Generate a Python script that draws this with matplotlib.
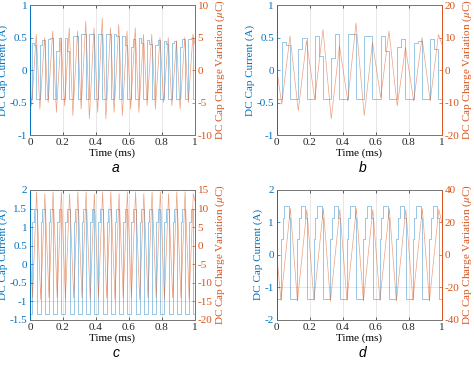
import numpy as np
import matplotlib.pyplot as plt
from matplotlib.ticker import FormatStrFormatter

plt.rcParams['font.family'] = ['Liberation Serif', 'DejaVu Serif']
plt.rcParams['mathtext.fontset'] = 'stix'
plt.rcParams['axes.unicode_minus'] = False

blue = '#0072BD'
orange = '#D95319'

# ---- panel a (20 kHz) ----
a_rise = [0.010, 0.060, 0.110, 0.160, 0.210, 0.260, 0.310, 0.360, 0.410, 0.460,
          0.510, 0.560, 0.610, 0.660, 0.710, 0.760, 0.810, 0.860, 0.910, 0.960]
a_fall = [0.038, 0.088, 0.138, 0.188, 0.238, 0.288, 0.338, 0.388, 0.438, 0.488,
          0.538, 0.588, 0.638, 0.688, 0.738, 0.788, 0.838, 0.888, 0.938, 0.988]
a_levels = [[0.42, 0.38], [0.38, 0.46], [0.48, 0.50], [0.30, 0.50], [0.50, 0.30],
            [0.53, 0.53], [0.55, 0.55], [0.55, 0.55], [0.56, 0.56], [0.55, 0.55],
            [0.55, 0.52], [0.52, 0.38], [0.35, 0.48], [0.50, 0.42], [0.46, 0.40],
            [0.38, 0.47], [0.45, 0.40], [0.42, 0.45], [0.35, 0.48], [0.48, 0.50]]
a_low = -0.45
a_trough = [-5.5, -6.0, -5.0, -6.5, -5.5, -7.0, -6.0, -7.5, -6.5, -7.5,
            -6.5, -7.0, -6.0, -6.5, -5.5, -6.0, -5.0, -5.5, -6.0, -5.0]
a_peak = [5.5, 5.0, 6.0, 5.0, 6.5, 6.0, 7.5, 6.5, 8.0, 6.5,
          7.0, 6.0, 6.5, 5.5, 5.5, 5.0, 5.0, 4.5, 5.0, 5.5]
a_q_ends = [0.0, 4.0]

# ---- panel b (10 kHz) ----
b_rise = [0.030, 0.130, 0.230, 0.330, 0.430, 0.530, 0.630, 0.730, 0.830, 0.930]
b_fall = [0.080, 0.180, 0.280, 0.380, 0.480, 0.580, 0.680, 0.780, 0.880, 0.980]
b_levels = [[0.44, 0.38], [0.33, 0.50], [0.52, 0.22], [0.18, 0.55], [0.55, 0.55],
            [0.53, 0.53], [0.52, 0.30], [0.35, 0.48], [0.42, 0.45], [0.48, 0.33]]
b_low = -0.45
b_trough = [-10.5, -12.5, -9.0, -15.0, -9.5, -14.0, -8.5, -11.0, -9.5, -9.5]
b_peak = [10.5, 9.0, 12.5, 7.5, 14.5, 8.5, 12.0, 7.0, 10.0, 11.0]
b_q_ends = [0.0, 8.0]

# ---- panel c (20 kHz) ----
c_rise = [0.015, 0.065, 0.115, 0.165, 0.215, 0.265, 0.315, 0.365, 0.415, 0.465,
          0.515, 0.565, 0.615, 0.665, 0.715, 0.765, 0.815, 0.865, 0.915, 0.965]
c_fall = [0.040, 0.090, 0.140, 0.190, 0.240, 0.290, 0.340, 0.390, 0.440, 0.490,
          0.540, 0.590, 0.640, 0.690, 0.740, 0.790, 0.840, 0.890, 0.940, 0.990]
c_shape = [1.15, 1.5, 1.5]
c_low = -1.35
c_trough = [-14.0, -14.5, -14.0, -14.0, -14.5, -14.0, -14.0, -14.5, -14.0, -14.0,
            -14.5, -14.0, -14.0, -14.5, -14.0, -14.0, -14.5, -14.0, -14.0, -14.5]
c_peak = [14.5, 14.0, 14.5, 14.5, 14.0, 14.5, 14.5, 14.0, 14.5, 14.5,
          14.0, 14.5, 14.5, 14.0, 14.5, 14.5, 14.0, 14.5, 14.5, 14.0]
c_q_ends = [0.0, 12.0]

# ---- panel d (10 kHz) ----
d_rise = [0.025, 0.125, 0.225, 0.325, 0.425, 0.525, 0.625, 0.725, 0.825, 0.925]
d_fall = [0.082, 0.182, 0.282, 0.382, 0.482, 0.582, 0.682, 0.782, 0.882, 0.982]
d_shape = [0.5, 1.15, 1.5, 1.5, 1.5, 1.15]
d_low = -1.35
d_trough = [-28.0, -28.5, -28.0, -28.5, -28.0, -28.5, -28.0, -28.5, -28.0, -28.5]
d_peak = [28.5, 28.0, 28.5, 28.0, 28.5, 28.0, 28.5, 28.0, 28.5, 28.0]
d_q_ends = [0.0, 20.0]


def pulse_train(rise, fall, levels, low):
    x, y = [0.0], [low]
    for r, f, lv in zip(rise, fall, levels):
        edges = np.linspace(r, f, len(lv) + 1)
        x.append(r)
        y.append(low)
        for j in range(len(lv)):
            x += [edges[j], edges[j + 1]]
            y += [lv[j], lv[j]]
        x.append(f)
        y.append(low)
    x.append(1.0)
    y.append(low)
    return x, y


def charge(rise, fall, trough, peak, ends):
    x, y = [0.0], [ends[0]]
    for r, f, lo, hi in zip(rise, fall, trough, peak):
        x += [r, f]
        y += [lo, hi]
    x.append(1.0)
    y.append(ends[1])
    return x, y


def panel(rect, cur, q, ylim, yticks, ylim2, yticks2, letter, hline=None):
    ax = fig.add_axes(rect)
    ax.plot(*cur, color=blue, lw=0.5, alpha=0.55)
    ax.set_xlim(0, 1)
    ax.set_ylim(*ylim)
    ax.set_yticks(yticks)
    ax.set_xticks([0, 0.2, 0.4, 0.6, 0.8, 1])
    ax.xaxis.set_major_formatter(FormatStrFormatter('%g'))
    ax.yaxis.set_major_formatter(FormatStrFormatter('%g'))
    ax.grid(axis='x', color='#dddddd', lw=0.5)
    if hline is not None:
        ax.axhline(hline, color='#dddddd', lw=0.5, zorder=0)
    ax.set_xlabel('Time (ms)', fontsize=8, labelpad=1)
    ax.set_ylabel('DC Cap Current (A)', fontsize=8, color=blue, labelpad=1)
    ax.tick_params(axis='both', direction='in', length=2.5, width=0.5,
                   labelsize=8, pad=2)
    ax.tick_params(axis='y', colors=blue)
    ax.tick_params(axis='x', top=True, colors='#262626')
    ax2 = ax.twinx()
    ax2.plot(*q, color=orange, lw=0.5, alpha=0.55)
    ax2.set_ylim(*ylim2)
    ax2.set_yticks(yticks2)
    ax2.yaxis.set_major_formatter(FormatStrFormatter('%g'))
    ax2.set_ylabel('DC Cap Charge Variation ($\\mu$C)', fontsize=8,
                   color=orange, labelpad=1)
    ax2.tick_params(axis='y', direction='in', length=2.5, width=0.5,
                    labelsize=8, pad=2, colors=orange)
    for a in (ax, ax2):
        a.spines['top'].set_color('#777777')
        a.spines['bottom'].set_color('#777777')
        a.spines['left'].set_color(blue)
        a.spines['right'].set_color(orange)
        for s in a.spines.values():
            s.set_linewidth(0.6)
    fig.text(rect[0] + rect[2] * 0.52, rect[1] - 0.09, letter,
             family=['Liberation Sans', 'DejaVu Sans'], style='italic',
             fontsize=10, ha='center', va='center')


fig = plt.figure(figsize=(4.74, 3.66), dpi=100)

panel([0.0633, 0.631, 0.348, 0.355],
      pulse_train(a_rise, a_fall, a_levels, a_low),
      charge(a_rise, a_fall, a_trough, a_peak, a_q_ends),
      (-1, 1), [-1, -0.5, 0, 0.5, 1], (-10, 10), [-10, -5, 0, 5, 10], 'a')
panel([0.584, 0.631, 0.348, 0.355],
      pulse_train(b_rise, b_fall, b_levels, b_low),
      charge(b_rise, b_fall, b_trough, b_peak, b_q_ends),
      (-1, 1), [-1, -0.5, 0, 0.5, 1], (-20, 20), [-20, -10, 0, 10, 20], 'b')
panel([0.0633, 0.126, 0.348, 0.355],
      pulse_train(c_rise, c_fall, [c_shape] * len(c_rise), c_low),
      charge(c_rise, c_fall, c_trough, c_peak, c_q_ends),
      (-1.5, 2), [-1.5, -1, -0.5, 0, 0.5, 1, 1.5, 2],
      (-20, 15), [-20, -15, -10, -5, 0, 5, 10, 15], 'c', hline=-1)
panel([0.584, 0.126, 0.348, 0.355],
      pulse_train(d_rise, d_fall, [d_shape] * len(d_rise), d_low),
      charge(d_rise, d_fall, d_trough, d_peak, d_q_ends),
      (-2, 2), [-2, -1, 0, 1, 2], (-40, 40), [-40, -20, 0, 20, 40], 'd', hline=-1)

fig.savefig('out.png', dpi=100)
